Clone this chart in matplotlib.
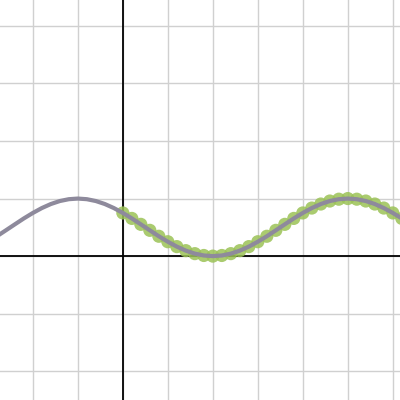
import numpy as np
import matplotlib.pyplot as plt

# curve samples (x in grid units, y in grid units)
curve_x = [-2.8, -2.6, -2.4, -2.2, -2.0, -1.8, -1.6, -1.4, -1.2, -1.0, -0.8, -0.6, -0.4, -0.2,
           0.0, 0.2, 0.4, 0.6, 0.8, 1.0, 1.2, 1.4, 1.6, 1.8, 2.0, 2.2, 2.4, 2.6, 2.8, 3.0,
           3.2, 3.4, 3.6, 3.8, 4.0, 4.2, 4.4, 4.6, 4.8, 5.0, 5.2, 5.4, 5.6, 5.8, 6.0, 6.2]
curve_y = [0.345, 0.448, 0.552, 0.655, 0.75, 0.835, 0.905, 0.957, 0.989, 1.0, 0.989, 0.957, 0.905, 0.835,
           0.75, 0.655, 0.552, 0.448, 0.345, 0.25, 0.165, 0.095, 0.043, 0.011, 0.0, 0.011, 0.043, 0.095, 0.165, 0.25,
           0.345, 0.448, 0.552, 0.655, 0.75, 0.835, 0.905, 0.957, 0.989, 1.0, 0.989, 0.957, 0.905, 0.835, 0.75, 0.655]

# green sample points (right of the y axis)
dot_x = curve_x[14:]
dot_y = curve_y[14:]

fig = plt.figure(figsize=(4, 4), dpi=100)
ax = fig.add_axes([0, 0, 1, 1])
ax.set_xlim(-2.73, 6.16)
ax.set_ylim(-2.5, 4.45)

for gx in range(-2, 7):
    ax.axvline(gx, color='#d0d0d0', lw=1, zorder=0)
for gy in range(-2, 5):
    ax.axhline(gy, color='#d0d0d0', lw=1, zorder=0)
ax.axvline(0, color='black', lw=1.3, zorder=1)
ax.axhline(0, color='black', lw=1.3, zorder=1)

ax.scatter(dot_x, dot_y, s=90, color='#9bc256', alpha=0.85, edgecolors='none', zorder=2)
ax.plot(curve_x, curve_y, color='#8e8a9c', lw=3, zorder=3)

ax.set_xticks([]); ax.set_yticks([])
for s in ax.spines.values():
    s.set_visible(False)

fig.savefig('out.png')
